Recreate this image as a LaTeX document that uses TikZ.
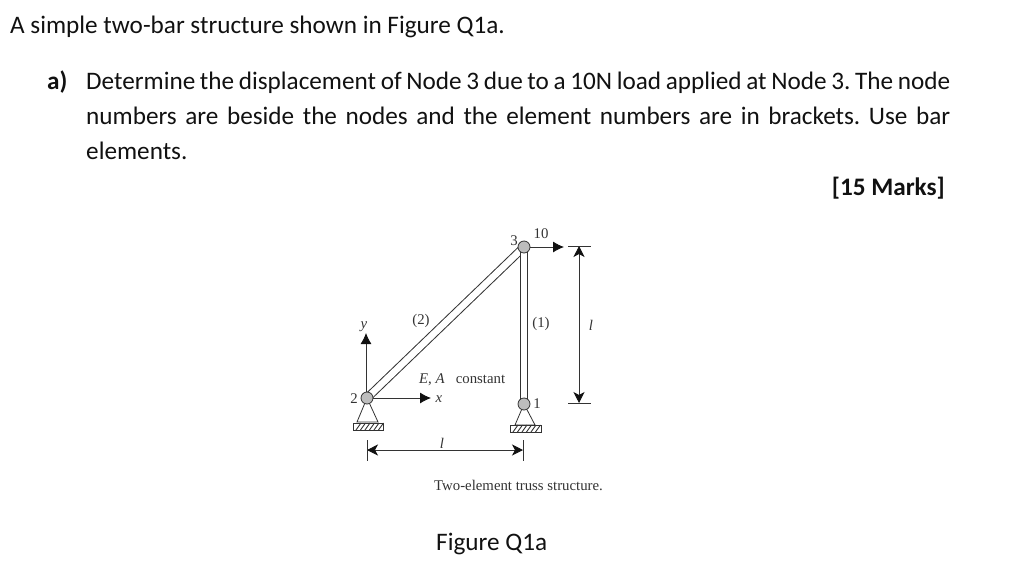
\documentclass[tikz,border=0pt]{standalone}
\usepackage{fontspec}
\setmainfont{Carlito}
\newfontfamily\figfont{Liberation Serif}
\usetikzlibrary{arrows.meta}
\definecolor{ink}{HTML}{111111}
\definecolor{figink}{HTML}{333333}
\definecolor{pin}{HTML}{BDBDBD}
\frenchspacing
\tikzset{
  x=1pt,y=-1pt,
  body/.style={anchor=base west,inner sep=0pt,text=ink,font=\fontsize{25.2}{29}\selectfont},
  lab/.style={inner sep=0pt,text=figink,font=\figfont\fontsize{14.8}{16}\selectfont},
  mathlab/.style={lab,font=\figfont\itshape\fontsize{14.8}{16}\selectfont},
  bar/.style={draw=figink,line width=1pt,double=white,double distance=6.5pt},
  pinjoint/.style={circle,draw=figink,fill=pin,line width=0.8pt,minimum size=12pt,inner sep=0pt},
  thin line/.style={draw=figink,line width=0.8pt},
  bigarrow/.style={thin line,-{Latex[length=11pt,width=11pt,color=ink]}},
  dimarrow/.style={thin line,{Stealth[length=11pt,width=11pt,inset=3pt,color=ink]}-{Stealth[length=11pt,width=11pt,inset=3pt,color=ink]}},
  hatchbox/.style={draw=figink,line width=0.9pt},
  hatchline/.style={draw=figink,line width=0.9pt}
}
\begin{document}
\begin{tikzpicture}
\useasboundingbox (0,0) rectangle (1024,573);
\node[body] (title) at (10,33) {A simple two-bar structure shown in Figure Q1a.};
\node[body] (qa) at (47,89) {\textbf{a)}};
\node[body] (l1) at (86,89.5) {\makebox[864pt][s]{Determine the displacement of Node 3 due to a 10N load applied at Node 3. The node}};
\node[body] (l2) at (86,124.5) {\makebox[864pt][s]{numbers are beside the nodes and the element numbers are in brackets. Use bar}};
\node[body] (l3) at (86,159.5) {elements.};
\node[body,anchor=base east] (marks) at (945,195) {\textbf{[15 Marks]}};
\node[body] (figcap) at (436,550) {Figure Q1a};
\node[lab,anchor=base west] (trusscap) at (434,490) {Two-element truss structure.};

\coordinate (n1) at (524,404);
\coordinate (n2) at (367,398);
\coordinate (n3) at (524,247);

% supports
\coordinate (s2l) at (357,422); \coordinate (s2r) at (378,422);
\coordinate (s1l) at (515,425); \coordinate (s1r) at (535,425);
\draw[thin line] (s2l) -- (n2) -- (s2r) -- cycle;
\draw[thin line] (s1l) -- (n1) -- (s1r) -- cycle;
\draw[hatchbox] (353,423) rectangle (383,430);
\draw[hatchbox] (510,425) rectangle (541,432);
\foreach \hx in {356,360.5,...,380}
  \draw[hatchline] (\hx,430) -- (\hx+5,423);
\foreach \hx in {513,517.5,...,537}
  \draw[hatchline] (\hx,432) -- (\hx+5,425);

% bars
\draw[bar] (n2) -- (n3);
\draw[bar] (n1) -- (n3);

% axes and load
\coordinate (ytip) at (366,333);
\coordinate (xtip) at (431,398);
\coordinate (ftip) at (564,247);
\draw[bigarrow] (n2 -| ytip) -- (ytip);
\draw[bigarrow] (n2) -- (xtip);
\draw[bigarrow] (n3) -- (ftip);

% joints
\node[pinjoint] (j1) at (n1) {};
\node[pinjoint] (j2) at (n2) {};
\node[pinjoint] (j3) at (n3) {};

% dimensions
\coordinate (ha) at (367,450); \coordinate (hb) at (523,450);
\coordinate (va) at (579,246); \coordinate (vb) at (579,403);
\draw[dimarrow] (ha) -- (hb);
\draw[dimarrow] (va) -- (vb);
\draw[thin line] (367,440) -- (367,461);
\draw[thin line] (523,440) -- (523,461);
\draw[thin line] (568,246) -- (591,246);
\draw[thin line] (568,403) -- (591,403);

% labels
\node[lab] (t2) at (354,399) {2};
\node[lab] (t3) at (514,241) {3};
\node[lab] (t1) at (537,404) {1};
\node[lab] (t10) at (541,234) {10};
\node[lab] (e2) at (421,321) {(2)};
\node[lab] (e1) at (541,324) {(1)};
\node[mathlab] (ty) at (364,327) {y};
\node[mathlab] (tx) at (439,399) {x};
\node[mathlab] (tlh) at (442,443) {l};
\node[mathlab] (tlv) at (591,325) {l};
\node[lab,anchor=base west] (ea) at (419,383) {\textit{E},\ \textit{A}\ \ \ constant};
\end{tikzpicture}
\end{document}
